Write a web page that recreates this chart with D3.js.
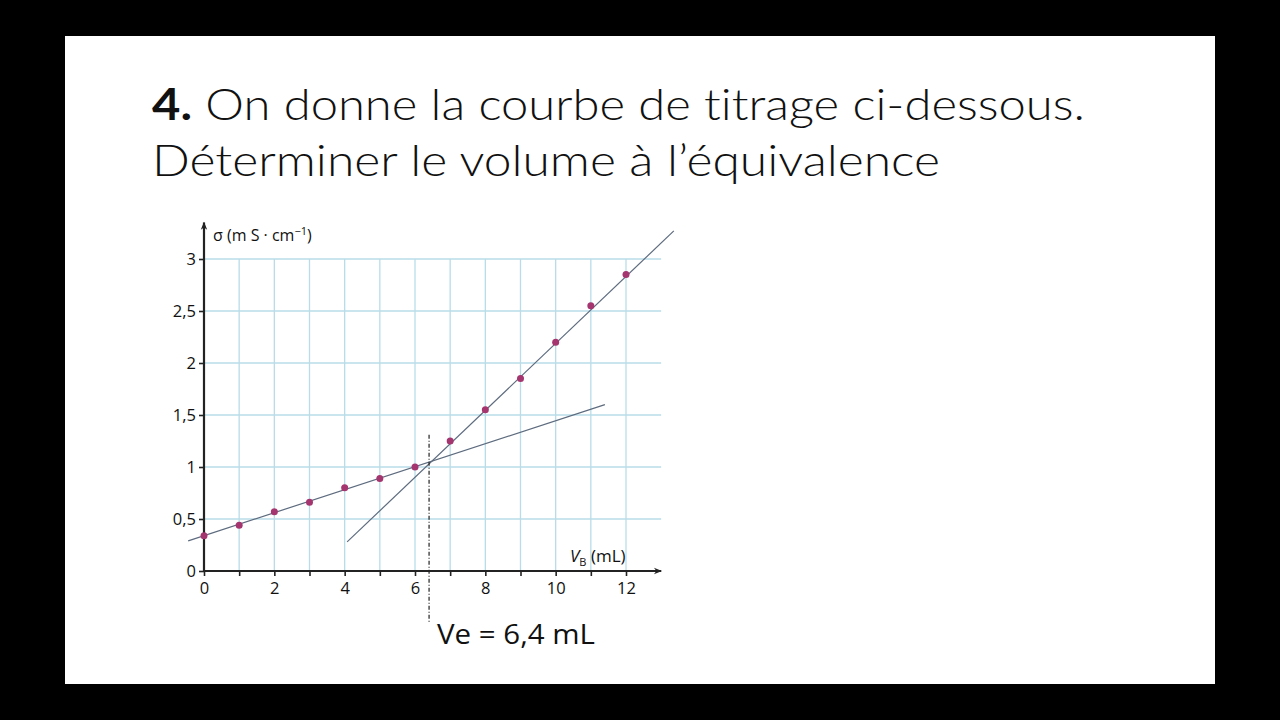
<!DOCTYPE html>
<html><head><meta charset="utf-8">
<script src="https://cdn.jsdelivr.net/npm/d3@7"></script>
<style>html,body{margin:0;padding:0;background:#000;}svg{display:block;}text{font-variant-ligatures:none;}</style>
</head><body>
<script>
// ---- data ----
const volumes = [0,1,2,3,4,5,6,7,8,9,10,11,12];
const conductivity = [0.34,0.44,0.57,0.66,0.80,0.89,1.00,1.25,1.55,1.85,2.20,2.55,2.85];
const xTicks = [0,1,2,3,4,5,6,7,8,9,10,11,12];
const xTickLabels = ["0","","2","","4","","6","","8","","10","","12"];
const yTicks = [0,0.5,1,1.5,2,2.5,3];
const yTickLabels = ["0","0,5","1","1,5","2","2,5","3"];
const lowFitX = [-0.45, 11.4];
const lowFitY = [0.29, 1.60];
const highFitX = [4.07, 13.36];
const highFitY = [0.28, 3.27];
const veValue = 6.4;
const veRangeY = [-0.49, 1.31];
const titleLine1Bold = "4.";
const titleLine1 = " On donne la courbe de titrage ci-dessous.";
const titleLine2 = "Déterminer le volume à l’équivalence";
const veLabel = "Ve = 6,4 mL";

const W = 1280, H = 720;
const svg = d3.select("body").append("svg").attr("width", W).attr("height", H);
svg.append("rect").attr("width", W).attr("height", H).attr("fill", "#000");
svg.append("rect").attr("x", 65).attr("y", 36).attr("width", 1150).attr("height", 648).attr("fill", "#fff");

// title
const titleFont = "Lato, 'Open Sans', sans-serif";
const t1 = svg.append("text").attr("x", 152).attr("y", 120)
  .attr("font-family", titleFont).attr("font-size", 44).attr("fill", "#111")
  .attr("textLength", 933).attr("lengthAdjust", "spacingAndGlyphs");
t1.append("tspan").attr("font-weight", 700).text(titleLine1Bold);
t1.append("tspan").attr("font-weight", 300).text(titleLine1);
svg.append("text").attr("x", 152).attr("y", 176)
  .attr("font-family", titleFont).attr("font-size", 44).attr("font-weight", 300).attr("fill", "#111")
  .attr("textLength", 788).attr("lengthAdjust", "spacingAndGlyphs").text(titleLine2);

// scales
const x = d3.scaleLinear().domain([0, 12]).range([204, 626]);
const y = d3.scaleLinear().domain([0, 3]).range([571, 259]);
const xEnd = x(13), yTop = y(3.35);

const g = svg.append("g");
const gridColor = "#b8dde8";
// grid
g.selectAll(".vg").data(xTicks.filter(d => d > 0)).join("line")
  .attr("x1", d => x(d)).attr("x2", d => x(d)).attr("y1", y(0)).attr("y2", y(3))
  .attr("stroke", gridColor).attr("stroke-width", 1.3);
g.selectAll(".hg").data(yTicks.filter(d => d > 0)).join("line")
  .attr("x1", x(0)).attr("x2", xEnd).attr("y1", d => y(d)).attr("y2", d => y(d))
  .attr("stroke", gridColor).attr("stroke-width", 1.3);

// arrow marker
const defs = svg.append("defs");
defs.append("marker").attr("id", "arr").attr("viewBox", "0 0 10 10").attr("refX", 9).attr("refY", 5)
  .attr("markerWidth", 11).attr("markerHeight", 8).attr("markerUnits", "userSpaceOnUse").attr("orient", "auto")
  .append("path").attr("d", "M0,1 L10,5 L0,9 L3,5 Z").attr("fill", "#222");

// axes
const axFont = "'Open Sans', 'Noto Sans', sans-serif";
const xAxis = d3.axisBottom(x).tickValues(xTicks).tickFormat((d, i) => xTickLabels[i]).tickSize(5).tickPadding(6);
const gx = g.append("g").attr("transform", `translate(0,${y(0)})`).call(xAxis);
gx.select(".domain").remove();
gx.selectAll("line").attr("stroke", "#222").attr("stroke-width", 1.6);
gx.selectAll("text").attr("font-family", axFont).attr("font-size", 16.5).attr("fill", "#111");

const yAxis = d3.axisLeft(y).tickValues(yTicks).tickFormat((d, i) => yTickLabels[i]).tickSize(5).tickPadding(3);
const gy = g.append("g").attr("transform", `translate(${x(0)},0)`).call(yAxis);
gy.select(".domain").remove();
gy.selectAll("line").attr("stroke", "#222").attr("stroke-width", 1.6);
gy.selectAll("text").attr("font-family", axFont).attr("font-size", 16.5).attr("fill", "#111");

g.append("line").attr("x1", x(0) - 1).attr("x2", xEnd).attr("y1", y(0)).attr("y2", y(0))
  .attr("stroke", "#222").attr("stroke-width", 2.2).attr("marker-end", "url(#arr)");
g.append("line").attr("x1", x(0)).attr("x2", x(0)).attr("y1", y(0) + 1).attr("y2", yTop)
  .attr("stroke", "#222").attr("stroke-width", 2.2).attr("marker-end", "url(#arr)");

// axis labels
const yl = g.append("text").attr("x", x(0) + 9).attr("y", 241)
  .attr("font-family", axFont).attr("font-size", 16).attr("fill", "#111");
yl.append("tspan").text("σ (m S · cm");
yl.append("tspan").attr("font-size", 11).attr("dy", -6).text("−1");
yl.append("tspan").attr("dy", 6).text(")");

const xl = g.append("text").attr("x", 570).attr("y", 562)
  .attr("font-family", axFont).attr("font-size", 17).attr("fill", "#111");
xl.append("tspan").attr("font-style", "italic").text("V");
xl.append("tspan").attr("font-size", 11).attr("dy", 4).text("B");
xl.append("tspan").attr("dy", -4).text(" (mL)");

// fit lines
const line = d3.line().x(d => x(d[0])).y(d => y(d[1]));
const lineColor = "#5d6b7e";
g.append("path").datum(d3.zip(lowFitX, lowFitY)).attr("d", line)
  .attr("fill", "none").attr("stroke", lineColor).attr("stroke-width", 1.2);
g.append("path").datum(d3.zip(highFitX, highFitY)).attr("d", line)
  .attr("fill", "none").attr("stroke", lineColor).attr("stroke-width", 1.2);

// equivalence dash-dot line
g.append("line").attr("x1", x(veValue)).attr("x2", x(veValue))
  .attr("y1", y(veRangeY[1])).attr("y2", y(veRangeY[0]))
  .attr("stroke", "#222").attr("stroke-width", 1.2).attr("stroke-dasharray", "4,2,1,2");

// points
g.selectAll(".pt").data(d3.zip(volumes, conductivity)).join("circle")
  .attr("cx", d => x(d[0])).attr("cy", d => y(d[1])).attr("r", 3.5).attr("fill", "#a4356f");

// Ve label
svg.append("text").attr("x", 437).attr("y", 644)
  .attr("font-family", "'Open Sans', Lato, sans-serif").attr("font-size", 27).attr("fill", "#111")
  .attr("textLength", 158).attr("lengthAdjust", "spacingAndGlyphs").text(veLabel);
</script>
</body></html>
